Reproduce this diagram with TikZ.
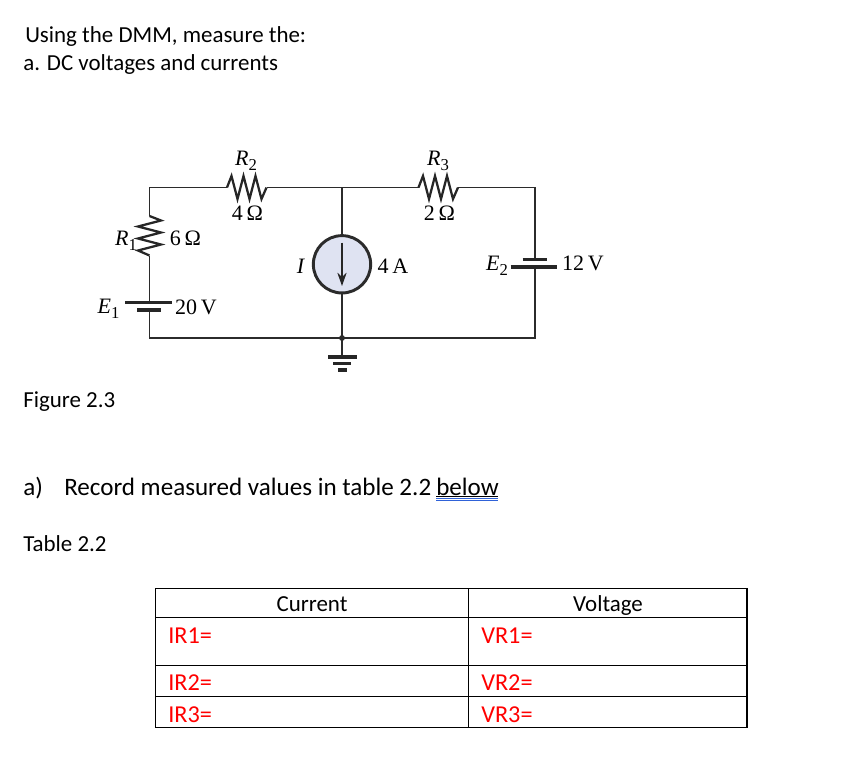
\documentclass[tikz,border=0pt]{standalone}
\usepackage{fontspec}
\setmainfont{Carlito}
\newfontfamily\circfont{Liberation Serif}
\usetikzlibrary{arrows.meta}
\definecolor{wirecol}{HTML}{2B2B2B}
\definecolor{srcfill}{HTML}{DFE3F2}
\definecolor{linkblue}{HTML}{2F62D8}
\newcommand{\lsub}[2]{\textit{#1}\raisebox{-0.55ex}{\fontsize{12.5}{12}\selectfont #2}}
\tikzset{
  wire/.style={draw=wirecol, line width=1.1pt},
  plate/.style={draw=black!85, line width=2.5pt},
  doc/.style={anchor=base west, inner sep=0pt, font=\fontsize{17.2}{20}\selectfont},
  big/.style={doc, font=\fontsize{18.8}{22}\selectfont},
  head/.style={anchor=base, inner sep=0pt, font=\fontsize{17.2}{20}\selectfont},
  val/.style={doc, text=red, font=\fontsize{18.2}{22}\selectfont},
  circ/.style={anchor=base, inner sep=0pt, font=\circfont\fontsize{16.5}{19}\selectfont},
  resistor/.pic={\draw[draw=black!85, line width=1.7pt, line join=miter]
    (0,0)--(4.5,-11.5)--(10.5,11.5)--(16.5,-11.5)--(22.5,11.5)--(28.5,-11.5)--(34.5,11.5)--(39.5,0);}
}
\begin{document}
\begin{tikzpicture}[x=0.75pt, y=-0.75pt]
\useasboundingbox (0,0) rectangle (861,757);
% page text
\node[doc] (line1) at (25,42) {Using the DMM, measure the:};
\node[doc] (line2) at (23,70) {a. DC voltages and currents};
\node[doc] (figcap) at (23,407) {Figure 2.3};
\node[big] (rec) at (23,495) {a)};
\node[big] (rec2) at (64,495) {Record measured values in table 2.2};
\node[big] (bel) at (436,495) {below};
\node[doc] (tabcap) at (23,551) {Table 2.2};
\draw[linkblue, line width=0.6pt] (bel.base west)++(0,3.5) -- ++(62,0);
\draw[linkblue, line width=0.6pt] (bel.base west)++(0,5.5) -- ++(62,0);
\draw[black, line width=0.6pt] (bel.base west)++(0,1) -- ++(62,0);
% circuit points
\coordinate (tl) at (149.5,187.5);
\coordinate (tm) at (342,187.5);
\coordinate (tr) at (535,187.5);
\coordinate (bl) at (149.5,338);
\coordinate (bm) at (342,338);
\coordinate (br) at (535,338);
\coordinate (r1a) at (149.5,216);
\coordinate (r1b) at (149.5,255.5);
\coordinate (r2a) at (227,187.5);
\coordinate (r2b) at (266.5,187.5);
\coordinate (r3a) at (418.5,187.5);
\coordinate (r3b) at (458,187.5);
\coordinate (e1a) at (149.5,302.3);
\coordinate (e1b) at (149.5,310);
\coordinate (e2a) at (535,259.3);
\coordinate (e2b) at (535,267);
\coordinate (gnd) at (342,357);
\node[circle, draw=wirecol, fill=srcfill, line width=2.2pt, minimum size=43pt, inner sep=0pt] (src) at (342,264.3) {};
% wires
\draw[wire] (r1a) -- (tl) -- (r2a);
\draw[wire] (r2b) -- (tm) -- (r3a);
\draw[wire] (r3b) -- (tr) -- (e2a);
\draw[wire] (e2b) -- (br) -- (bl) -- (e1b);
\draw[wire] (e1a) -- (r1b);
\draw[wire] (tm) -- (src);
\draw[wire] (src) -- (bm) -- (gnd);
\fill[wirecol] (bm) circle (2.2pt);
\path (r2a) pic {resistor};
\path (r3a) pic {resistor};
\path (r1a) pic[rotate=-90] {resistor};
% plates
\draw[plate] (125,302.3) -- (171.7,302.3);
\draw[plate] (137,310) -- (161,310);
\draw[plate] (522.7,259.3) -- (547,259.3);
\draw[plate] (510.7,267) -- (557,267);
\draw[plate] (328.3,357) -- (356.7,357);
\draw[plate] (333,363.7) -- (351,363.7);
\draw[plate] (338,370) -- (346.5,370);
% source arrow
\coordinate (arra) at (342,242.7);
\coordinate (arrb) at (342,286);
\draw[black!85, line width=1.1pt, -{Stealth[length=10pt, width=7pt]}] (arra) -- (arrb);
% circuit labels
\node[circ] (labr2) at (246,165) {\lsub{R}{2}};
\node[circ] (valr2) at (247.5,220.3) {4\kern2.8ptΩ};
\node[circ] (labr3) at (438,165) {\lsub{R}{3}};
\node[circ] (valr3) at (439.5,220.3) {2\kern2.8ptΩ};
\node[circ] (labr1) at (126,245) {\lsub{R}{1}};
\node[circ] (valr1) at (185.5,245) {6\kern2.8ptΩ};
\node[circ] (labe1) at (108.5,313) {\lsub{E}{1}};
\node[circ] (vale1) at (196,314.3) {20\,V};
\node[circ] (labe2) at (497,270) {\lsub{E}{2}};
\node[circ] (vale2) at (583,270.6) {12\,V};
\node[circ] (labi) at (301,273) {\textit{I}};
\node[circ] (vals) at (393,273.3) {4\,A};
% table
\coordinate (t0) at (155.5,588.3);
\coordinate (t1) at (747,727.8);
\draw[black, line width=0.8pt] (t0) rectangle (t1);
\foreach \yy in {617.3,665.3,696.3} \draw[black, line width=0.8pt] (155.5,\yy) -- (747,\yy);
\draw[black, line width=0.8pt] (468.3,588.3) -- (468.3,727.8);
\node[head] (cur) at (312,611) {Current};
\node[head] (vol) at (608,611) {Voltage};
\node[val] (ir1) at (168,643) {IR1=};
\node[val] (ir2) at (168,690) {IR2=};
\node[val] (ir3) at (168,722) {IR3=};
\node[val] (vr1) at (481,643) {VR1=};
\node[val] (vr2) at (481,690) {VR2=};
\node[val] (vr3) at (481,722) {VR3=};
\end{tikzpicture}
\end{document}
